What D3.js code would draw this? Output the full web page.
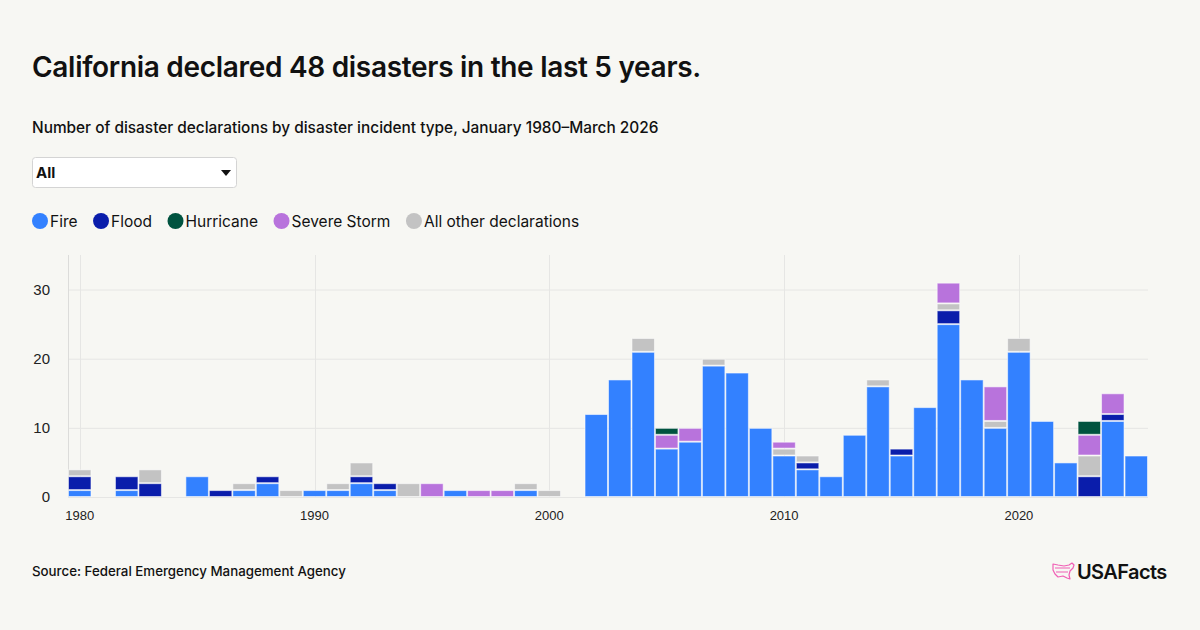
<!DOCTYPE html>
<meta charset="utf-8">
<style>
body { margin: 0; background: #f7f7f3; font-family: Inter, "Noto Sans", sans-serif; }
svg text { fill: #111; }
.title { font-size: 28px; font-weight: 600; letter-spacing: -0.3px; }
.subtitle { font-size: 15.4px; font-weight: 500; }
.legend text { font-size: 15.5px; }
.axis text { font-size: 13px; fill: #222; }
.source { font-size: 13.3px; font-weight: 500; }
</style>
<body>
<div id="chart"></div>
<script src="https://cdn.jsdelivr.net/npm/d3@7"></script>
<script>
// declarations per year
var years     = d3.range(1980, 2026);
var fire      = [1,0,1,0,0,3,0,1,2,0, 1,1,2,1,0,0,1,0,0,1, 0,0,12,17,21,7,8,19,18,10, 6,4,3,9,16,6,13,25,17,10, 21,11,5,0,11,6];
var flood     = [2,0,2,2,0,0,1,0,1,0, 0,0,1,1,0,0,0,0,0,0, 0,0,0,0,0,0,0,0,0,0, 0,1,0,0,0,1,0,2,0,0, 0,0,0,3,1,0];
var other     = [1,0,0,2,0,0,0,1,0,1, 0,1,2,0,2,0,0,0,0,1, 1,0,0,0,2,0,0,1,0,0, 1,1,0,0,1,0,0,1,0,1, 2,0,0,3,0,0];
var storm     = [0,0,0,0,0,0,0,0,0,0, 0,0,0,0,0,2,0,1,1,0, 0,0,0,0,0,2,2,0,0,0, 1,0,0,0,0,0,0,3,0,5, 0,0,0,3,3,0];
var hurricane = [0,0,0,0,0,0,0,0,0,0, 0,0,0,0,0,0,0,0,0,0, 0,0,0,0,0,1,0,0,0,0, 0,0,0,0,0,0,0,0,0,0, 0,0,0,2,0,0];

var legendNames  = ["Fire", "Flood", "Hurricane", "Severe Storm", "All other declarations"];
var legendColors = ["#3381ff", "#0a1dab", "#00533f", "#b873dc", "#c3c3c3"];
var yTicks = [0, 10, 20, 30];
var xTicks = [1980, 1990, 2000, 2010, 2020];

// stack order bottom-up as drawn
var stackKeys = ["fire", "flood", "other", "storm", "hurricane"];
var colorOf = {fire: "#3381ff", flood: "#0a1dab", other: "#c3c3c3", storm: "#b873dc", hurricane: "#00533f"};

var rows = years.map(function(y, i) {
  return {year: y, fire: fire[i], flood: flood[i], other: other[i], storm: storm[i], hurricane: hurricane[i]};
});

var W = 1200, H = 630;
var margin = {top: 255, right: 52, bottom: 133, left: 68};

var svg = d3.select("#chart").append("svg")
    .attr("width", W).attr("height", H)
    .style("background", "#f7f7f3");

svg.append("text").attr("class", "title").attr("x", 32).attr("y", 77)
    .text("California declared 48 disasters in the last 5 years.");
svg.append("text").attr("class", "subtitle").attr("x", 32).attr("y", 133)
    .text("Number of disaster declarations by disaster incident type, January 1980\u2013March 2026");

// dropdown
var dd = svg.append("g").attr("transform", "translate(32,157)");
dd.append("rect").attr("x", 0.5).attr("y", 0.5).attr("width", 204).attr("height", 30).attr("rx", 3)
    .attr("fill", "#fff").attr("stroke", "#d4d4d4");
dd.append("text").attr("x", 4).attr("y", 21).style("font-size", "15px").style("font-weight", 700).text("All");
dd.append("path").attr("d", "M189,13 L199,13 L194,19 Z").attr("fill", "#111");

// legend
var lg = svg.append("g").attr("class", "legend").attr("transform", "translate(32,221)");
var lx = 0;
legendNames.forEach(function(name, i) {
  var g = lg.append("g").attr("transform", "translate(" + lx + ",0)");
  g.append("circle").attr("cx", 8).attr("cy", 0).attr("r", 8).attr("fill", legendColors[i]);
  var t = g.append("text").attr("x", 18).attr("y", 5.5).text(name);
  lx += 18 + t.node().getComputedTextLength() + 15.5;
});

var x = d3.scaleBand().domain(years).range([margin.left, W - margin.right]).paddingInner(0);
var y = d3.scaleLinear().domain([0, 35]).range([H - margin.bottom, margin.top]);

// grid
svg.append("g").selectAll("line").data(yTicks).join("line")
    .attr("x1", margin.left).attr("x2", W - margin.right)
    .attr("y1", function(d) { return y(d) + 0.5; }).attr("y2", function(d) { return y(d) + 0.5; })
    .attr("stroke", "#e6e6e4");
svg.append("g").selectAll("line").data(xTicks).join("line")
    .attr("x1", function(d) { return Math.round(x(d) + x.bandwidth() / 2) + 0.5; })
    .attr("x2", function(d) { return Math.round(x(d) + x.bandwidth() / 2) + 0.5; })
    .attr("y1", margin.top).attr("y2", H - margin.bottom)
    .attr("stroke", "#e6e6e4");
svg.append("line").attr("x1", margin.left + 0.5).attr("x2", margin.left + 0.5)
    .attr("y1", margin.top).attr("y2", H - margin.bottom).attr("stroke", "#dcdcda");

// bars
var series = d3.stack().keys(stackKeys)(rows);
svg.append("g").selectAll("g").data(series).join("g")
    .attr("fill", function(s) { return colorOf[s.key]; })
  .selectAll("rect").data(function(s) { return s.filter(function(d) { return d[1] > d[0]; }); }).join("rect")
    .attr("x", function(d) { return x(d.data.year) + 0.5; })
    .attr("width", x.bandwidth() - 1)
    .attr("y", function(d) { return y(d[1]) + 0.5; })
    .attr("height", function(d) { return y(d[0]) - y(d[1]) - 1; })
    .attr("stroke", "#ffffff").attr("stroke-opacity", 0.55).attr("stroke-width", 1);

// axes
var yAxis = svg.append("g").attr("class", "axis")
    .attr("transform", "translate(" + (margin.left - 18) + ",0)")
    .call(d3.axisLeft(y).tickValues(yTicks).tickSize(0).tickPadding(0));
yAxis.select(".domain").remove();
yAxis.selectAll("text").style("font-size", "15px");

var xAxis = svg.append("g").attr("class", "axis")
    .attr("transform", "translate(0," + (H - margin.bottom + 8) + ")")
    .call(d3.axisBottom(x).tickValues(xTicks).tickSize(0).tickPadding(6));
xAxis.select(".domain").remove();

svg.append("text").attr("class", "source").attr("x", 32).attr("y", 576)
    .text("Source: Federal Emergency Management Agency");

// logo
var logo = svg.append("g").attr("transform", "translate(1052,562)");
logo.append("path")
    .attr("d", "M1,2 L6,3 L12,4 L17,3 L20,1 L22,3 L21,6 L18,9 L17,13 L18,17 L15,16 L11,14 L6,15 L3,12 L1,8 Z M3,6 L18,6 M4,10 L16,10")
    .attr("fill", "none").attr("stroke", "#f05fb5").attr("stroke-width", 1.2).attr("stroke-linejoin", "round");
logo.append("text").attr("x", 25).attr("y", 17).style("font-size", "20px").style("font-weight", 600)
    .style("letter-spacing", "-0.6px").text("USAFacts");
</script>
</body>
